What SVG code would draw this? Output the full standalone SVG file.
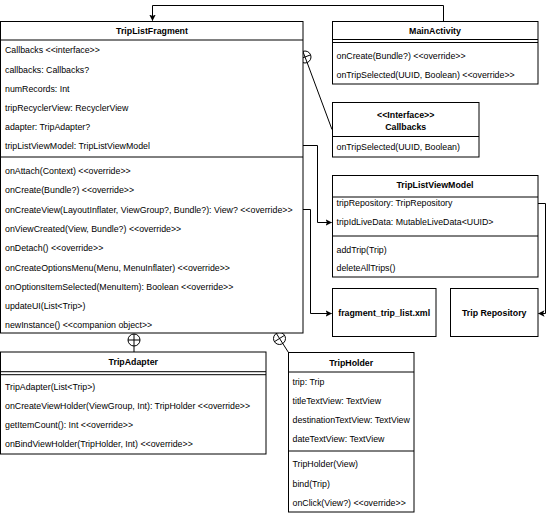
<svg xmlns="http://www.w3.org/2000/svg" width="553" height="514" viewBox="0 0 553 514">
<style>
.box{fill:#fff;stroke:#000;stroke-width:1}
.ln{fill:none;stroke:#000;stroke-width:1}
.t{font-family:"Liberation Sans",Arial,Helvetica,sans-serif;font-size:8.8px;fill:#000}
.b{font-weight:bold;text-anchor:middle}
</style>
<defs>
<marker id="arr" markerWidth="8" markerHeight="8" refX="6" refY="4" orient="auto" markerUnits="userSpaceOnUse">
<path d="M0,0.7 L6.5,4 L0,7.3 L1.5,4 Z" fill="#000"/>
</marker>
</defs>
<rect width="553" height="514" fill="#fff"/>

<g id="connectors">
<path class="ln" d="M443.5,21.5 V5.5 H152.5 V20.5" marker-end="url(#arr)"/>
<path class="ln" d="M303,145.5 H317.5 V222.5 H331.5" marker-end="url(#arr)"/>
<path class="ln" d="M303,209.5 H310.5 V313.5 H331.5" marker-end="url(#arr)"/>
<path class="ln" d="M538,203.5 H545.5 V313.5 H538.5" marker-end="url(#arr)"/>
<g id="contain-callbacks">
<circle class="ln" cx="305" cy="57" r="6"/>
<line class="ln" x1="302.85" y1="51.4" x2="307.15" y2="62.6"/>
<line class="ln" x1="299.4" y1="59.15" x2="310.6" y2="54.85"/>
<line class="ln" x1="307.15" y1="62.6" x2="332" y2="129.5"/>
</g>
<g id="contain-adapter">
<circle class="ln" cx="134" cy="340" r="6"/>
<line class="ln" x1="134" y1="334" x2="134" y2="352"/>
<line class="ln" x1="128" y1="340" x2="140" y2="340"/>
</g>
<g id="contain-holder">
<circle class="ln" cx="279.5" cy="338.5" r="6"/>
<line class="ln" x1="276.3" y1="333.4" x2="288.5" y2="352.5"/>
<line class="ln" x1="274.4" y1="341.7" x2="284.6" y2="335.3"/>
</g>
</g>

<g id="TripListFragment">
<rect class="box" x="0.5" y="21.5" width="302.5" height="311.5"/>
<line class="ln" x1="0.5" y1="40" x2="303" y2="40"/>
<line class="ln" x1="0.5" y1="157" x2="303" y2="157"/>
<text class="t b" x="152" y="33.9">TripListFragment</text>
<text class="t" x="5" y="53.2">Callbacks &lt;&lt;interface&gt;&gt;</text>
<text class="t" x="5" y="72.6">callbacks: Callbacks?</text>
<text class="t" x="5" y="92">numRecords: Int</text>
<text class="t" x="5" y="111">tripRecyclerView: RecyclerView</text>
<text class="t" x="5" y="130">adapter: TripAdapter?</text>
<text class="t" x="5" y="149">tripListViewModel: TripListViewModel</text>
<text class="t" x="5" y="173.9">onAttach(Context) &lt;&lt;override&gt;&gt;</text>
<text class="t" x="5" y="193.2">onCreate(Bundle?) &lt;&lt;override&gt;&gt;</text>
<text class="t" x="5" y="212.7">onCreateView(LayoutInflater, ViewGroup?, Bundle?): View? &lt;&lt;override&gt;&gt;</text>
<text class="t" x="5" y="232.2">onViewCreated(View, Bundle?) &lt;&lt;override&gt;&gt;</text>
<text class="t" x="5" y="251.2">onDetach() &lt;&lt;override&gt;&gt;</text>
<text class="t" x="5" y="270.5">onCreateOptionsMenu(Menu, MenuInflater) &lt;&lt;override&gt;&gt;</text>
<text class="t" x="5" y="289.9">onOptionsItemSelected(MenuItem): Boolean &lt;&lt;override&gt;&gt;</text>
<text class="t" x="5" y="308.7">updateUI(List&lt;Trip&gt;)</text>
<text class="t" x="5" y="327.9">newInstance() &lt;&lt;companion object&gt;&gt;</text>
</g>

<g id="MainActivity">
<rect class="box" x="332.5" y="21.5" width="205.5" height="62.5"/>
<line class="ln" x1="332.5" y1="39.5" x2="538" y2="39.5"/>
<line class="ln" x1="332.5" y1="42.5" x2="538" y2="42.5"/>
<text class="t b" x="435" y="33.9">MainActivity</text>
<text class="t" x="336.5" y="59.2">onCreate(Bundle?) &lt;&lt;override&gt;&gt;</text>
<text class="t" x="336.5" y="78.2">onTripSelected(UUID, Boolean) &lt;&lt;override&gt;&gt;</text>
</g>

<g id="Callbacks">
<rect class="box" x="332.5" y="102.5" width="146.5" height="54.5"/>
<line class="ln" x1="332.5" y1="136.5" x2="479" y2="136.5"/>
<text class="t b" x="405.7" y="118.2">&lt;&lt;Interface&gt;&gt;</text>
<text class="t b" x="405.7" y="129.9">Callbacks</text>
<text class="t" x="336.5" y="149.9">onTripSelected(UUID, Boolean)</text>
</g>

<g id="TripListViewModel">
<rect class="box" x="332.5" y="175.5" width="205.5" height="101.5"/>
<line class="ln" x1="332.5" y1="197" x2="538" y2="197"/>
<line class="ln" x1="332.5" y1="236" x2="538" y2="236"/>
<text class="t b" x="435" y="188.2">TripListViewModel</text>
<text class="t" x="336.5" y="206.4">tripRepository: TripRepository</text>
<text class="t" x="336.5" y="225.4">tripIdLiveData: MutableLiveData&lt;UUID&gt;</text>
<text class="t" x="336.5" y="252.5">addTrip(Trip)</text>
<text class="t" x="336.5" y="270.5">deleteAllTrips()</text>
</g>

<g id="fragment_trip_list">
<rect class="box" x="332.5" y="288.5" width="103.5" height="48"/>
<text class="t b" x="384.2" y="316.2">fragment_trip_list.xml</text>
</g>

<g id="TripRepository">
<rect class="box" x="450.5" y="288.5" width="87.5" height="48"/>
<text class="t b" x="494.2" y="316.2">Trip Repository</text>
</g>

<g id="TripAdapter">
<rect class="box" x="0.5" y="352" width="265.5" height="102"/>
<line class="ln" x1="0.5" y1="371.7" x2="266" y2="371.7"/>
<line class="ln" x1="0.5" y1="374.7" x2="266" y2="374.7"/>
<text class="t b" x="133.3" y="365">TripAdapter</text>
<text class="t" x="5" y="389.9">TripAdapter(List&lt;Trip&gt;)</text>
<text class="t" x="5" y="409.2">onCreateViewHolder(ViewGroup, Int): TripHolder &lt;&lt;override&gt;&gt;</text>
<text class="t" x="5" y="428.2">getItemCount(): Int &lt;&lt;override&gt;&gt;</text>
<text class="t" x="5" y="447.2">onBindViewHolder(TripHolder, Int) &lt;&lt;override&gt;&gt;</text>
</g>

<g id="TripHolder">
<rect class="box" x="288.5" y="352.5" width="125.5" height="159.5"/>
<line class="ln" x1="288.5" y1="372" x2="414" y2="372"/>
<line class="ln" x1="288.5" y1="451" x2="414" y2="451"/>
<text class="t b" x="351.2" y="365.5">TripHolder</text>
<text class="t" x="292.5" y="384.9">trip: Trip</text>
<text class="t" x="292.5" y="403.9">titleTextView: TextView</text>
<text class="t" x="292.5" y="422.5">destinationTextView: TextView</text>
<text class="t" x="292.5" y="441.5">dateTextView: TextView</text>
<text class="t" x="292.5" y="467.2">TripHolder(View)</text>
<text class="t" x="292.5" y="486.5">bind(Trip)</text>
<text class="t" x="292.5" y="505.9">onClick(View?) &lt;&lt;override&gt;&gt;</text>
</g>
</svg>
